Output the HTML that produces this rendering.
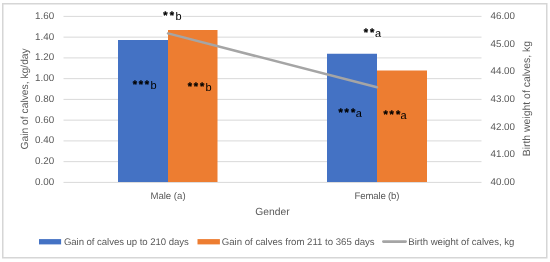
<!DOCTYPE html>
<html>
<head>
<meta charset="utf-8">
<style>
html,body{margin:0;padding:0;background:#fff;width:550px;height:262px;overflow:hidden}
svg{display:block}
text{text-rendering:geometricPrecision;font-family:"Liberation Sans",Arial,sans-serif;fill:#595959}
.ax{font-size:9.8px}
.cat{font-size:9.6px}
.lg{font-size:9.6px}
.lb{font-size:11px;fill:#000}
.st{font-weight:bold;stroke:#000;stroke-width:0.35;stroke-linejoin:round}
</style>
</head>
<body>
<svg width="550" height="262" viewBox="0 0 550 262">
<rect x="0" y="0" width="550" height="262" fill="#fff"/>
<rect x="2.75" y="3.75" width="544" height="254" fill="none" stroke="#d6d6d6" stroke-width="1.5"/>
<g stroke="#d9d9d9" stroke-width="1">
<line x1="63.5" x2="481.5" y1="16.40" y2="16.40"/>
<line x1="63.5" x2="481.5" y1="37.15" y2="37.15"/>
<line x1="63.5" x2="481.5" y1="57.90" y2="57.90"/>
<line x1="63.5" x2="481.5" y1="78.65" y2="78.65"/>
<line x1="63.5" x2="481.5" y1="99.40" y2="99.40"/>
<line x1="63.5" x2="481.5" y1="120.15" y2="120.15"/>
<line x1="63.5" x2="481.5" y1="140.90" y2="140.90"/>
<line x1="63.5" x2="481.5" y1="161.65" y2="161.65"/>
<line x1="63.5" x2="481.5" y1="182.40" y2="182.40"/>
</g>
<rect x="118" y="40" width="50" height="142" fill="#4472c4"/>
<rect x="168" y="30" width="49.5" height="152" fill="#ed7d31"/>
<rect x="327" y="53.75" width="50" height="128.25" fill="#4472c4"/>
<rect x="377" y="70.5" width="50" height="111.5" fill="#ed7d31"/>
<line x1="168" y1="33.4" x2="377" y2="87.3" stroke="#a5a5a5" stroke-width="2.5" stroke-linecap="round"/>
<g class="ax" text-anchor="end">
<text x="54.2" y="18.90">1.60</text>
<text x="54.2" y="39.65">1.40</text>
<text x="54.2" y="60.40">1.20</text>
<text x="54.2" y="81.15">1.00</text>
<text x="54.2" y="101.90">0.80</text>
<text x="54.2" y="122.65">0.60</text>
<text x="54.2" y="143.40">0.40</text>
<text x="54.2" y="164.15">0.20</text>
<text x="54.2" y="184.90">0.00</text>
</g>
<g class="ax">
<text x="490.5" y="18.90">46.00</text>
<text x="490.5" y="46.57">45.00</text>
<text x="490.5" y="74.23">44.00</text>
<text x="490.5" y="101.90">43.00</text>
<text x="490.5" y="129.57">42.00</text>
<text x="490.5" y="157.24">41.00</text>
<text x="490.5" y="184.90">40.00</text>
</g>
<g class="cat" text-anchor="middle">
<text x="168" y="198.9">Male (a)</text>
<text x="377" y="198.9" textLength="45">Female (b)</text>
</g>
<text x="272.5" y="215" text-anchor="middle" style="font-size:10.3px">Gender</text>
<text transform="translate(27.7,98.9) rotate(-90)" text-anchor="middle" style="font-size:10.3px">Gain of calves, kg/day</text>
<text transform="translate(529.6,98.6) rotate(-90)" text-anchor="middle" style="font-size:10.45px">Birth weight of calves, kg</text>
<rect x="162.5" y="8" width="20" height="13" fill="#fff"/>
<rect x="374" y="35.4" width="8.4" height="2.4" fill="#fff"/>
<text class="lb"><tspan class="st" x="163.36 169.76" y="19.06">**</tspan><tspan x="175.50" y="19.5">b</tspan></text>
<text class="lb"><tspan class="st" x="132.86 138.76 144.86" y="88.06">***</tspan><tspan x="150.45" y="88.7">b</tspan></text>
<text class="lb"><tspan class="st" x="187.86 193.66 200.06" y="90.16">***</tspan><tspan x="205.40" y="90.9">b</tspan></text>
<text class="lb"><tspan class="st" x="363.66 370.06" y="36.26">**</tspan><tspan x="374.93" y="36.5">a</tspan></text>
<text class="lb"><tspan class="st" x="338.46 344.56 351.06" y="115.56">***</tspan><tspan x="355.63" y="116.8">a</tspan></text>
<text class="lb"><tspan class="st" x="383.46 389.56 395.96" y="117.86">***</tspan><tspan x="400.53" y="118.5">a</tspan></text>
<rect x="39" y="239.1" width="22.1" height="5.3" fill="#4472c4"/>
<text class="lg" x="63.9" y="244.5" textLength="124.9">Gain of calves up to 210 days</text>
<rect x="197.5" y="239.1" width="22.4" height="5.3" fill="#ed7d31"/>
<text class="lg" x="221.8" y="244.5">Gain of calves from 211 to 365 days</text>
<line x1="383.4" y1="241.6" x2="405.6" y2="241.6" stroke="#a5a5a5" stroke-width="2.75" stroke-linecap="round"/>
<text class="lg" x="408.3" y="244.5">Birth weight of calves, kg</text>
</svg>
</body>
</html>
